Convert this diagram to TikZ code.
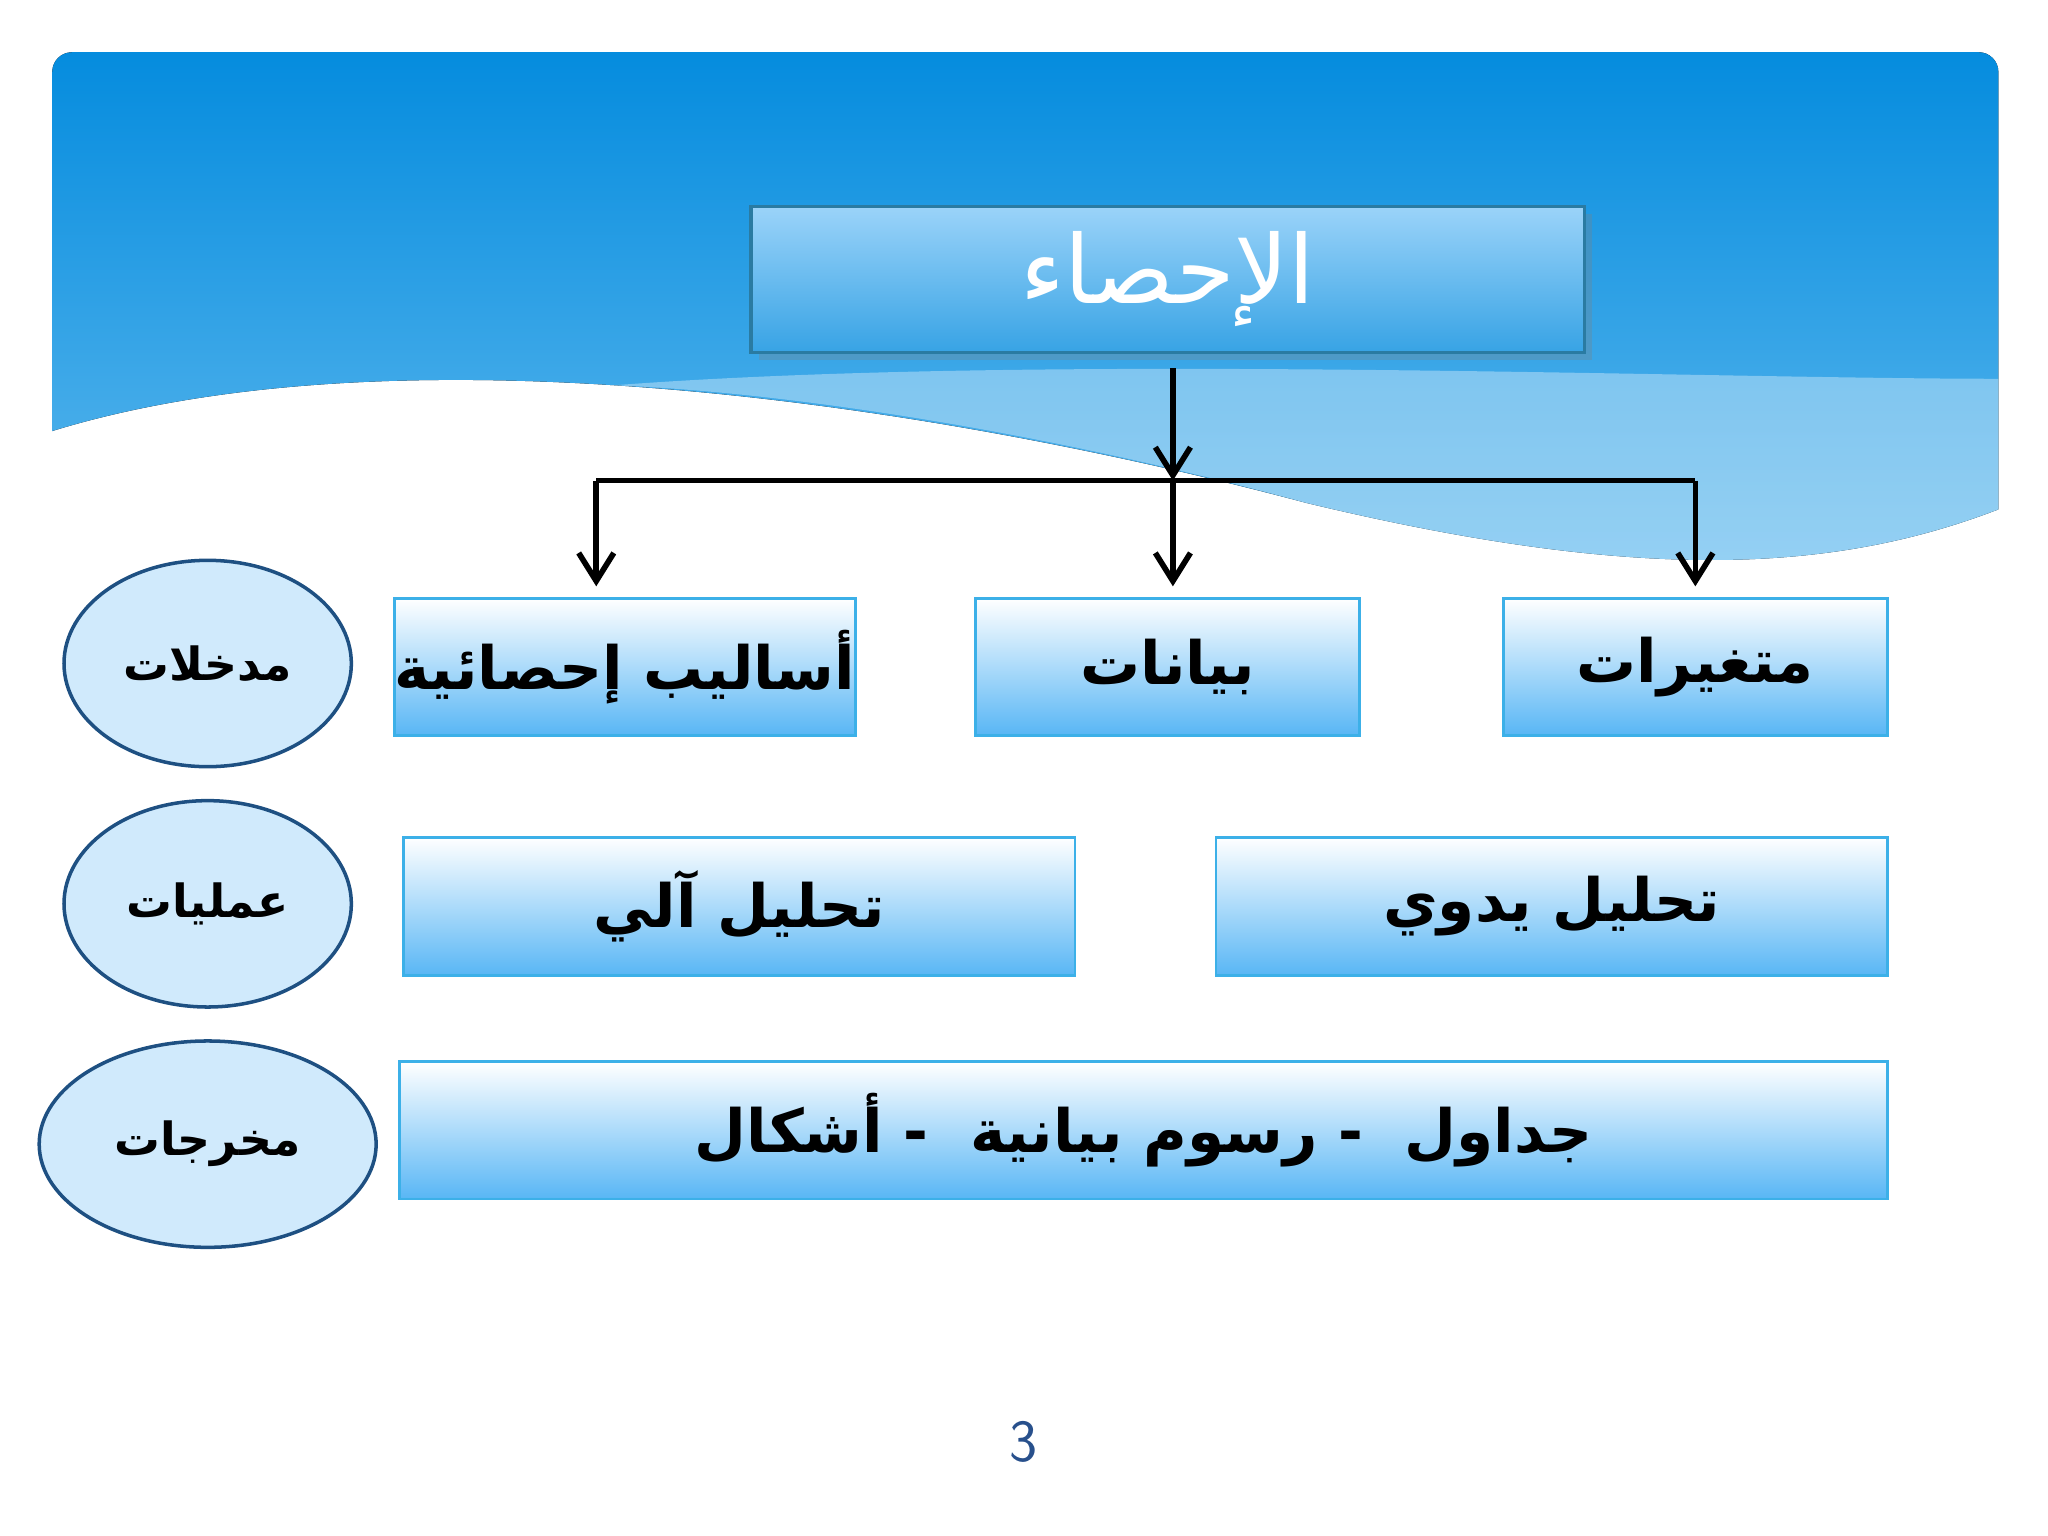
\documentclass[tikz,border=0pt]{standalone}
\usepackage{fontspec}
\newfontfamily\arabicfont[Script=Arabic]{DejaVu Sans}
\TeXXeTstate=1
\usetikzlibrary{shapes.geometric,shadows,arrows.meta}
\definecolor{bandtop}{RGB}{5,140,222}
\definecolor{bandlow}{RGB}{95,185,238}
\definecolor{boxedge}{RGB}{60,176,232}
\definecolor{boxlow}{RGB}{88,182,245}
\definecolor{ovalfill}{RGB}{208,234,252}
\definecolor{ovaledge}{RGB}{30,80,130}
\definecolor{pagenum}{RGB}{40,80,140}
\newcommand\ar[1]{\arabicfont\beginR #1\endR}
\begin{document}
\begin{tikzpicture}[x=0.013061cm,y=-0.013061cm,
    box/.style={rectangle, draw=boxedge, line width=0.8pt, top color=white, bottom color=boxlow,
      inner sep=0pt, font=\fontsize{17}{20}\selectfont\bfseries},
    titlebox/.style={rectangle, draw=boxedge!70!black, line width=1pt, top color=boxlow!60, bottom color=bandtop!80,
      inner sep=0pt, text=white, font=\fontsize{27}{32}\selectfont, drop shadow={opacity=0.3}},
    oval/.style={ellipse, draw=ovaledge, line width=1pt, fill=ovalfill, inner sep=0pt,
      font=\fontsize{13}{16}\selectfont\bfseries},
    link/.style={line width=1.6pt, black},
    tip/.style={link, -{Straight Barb[length=8pt,width=10pt]}}]
    \useasboundingbox (0,0) rectangle (1568,1176);
    % background band with wave
    \fill[top color=bandtop, bottom color=bandlow, rounded corners=15*0.013061cm] (40,330) -- (40,40)
      -- (1530,40) [sharp corners] -- (1530,390)
      .. controls (1400,440) and (1250,445) .. (1000,385) .. controls (700,305) and (300,250) .. (40,330) -- cycle;
    \fill[white, opacity=0.35] (470,295) .. controls (800,270) and (1300,290) .. (1530,290) -- (1530,390)
      .. controls (1400,440) and (1250,445) .. (1000,385) .. controls (800,330) and (600,300) .. (470,295) -- cycle;

    % title
    \node [titlebox, minimum width=638*0.013061cm, minimum height=112*0.013061cm] (stats) at (894,214) {\ar{الإحصاء}};

    % inputs row
    \node [box, minimum width=339*0.013061cm, minimum height=105*0.013061cm] (methods) at (478.5,510.5) {\ar{أساليب إحصائية}};
    \node [box, minimum width=294*0.013061cm, minimum height=105*0.013061cm] (data) at (894,510.5) {\ar{بيانات}};
    \node [box, minimum width=294*0.013061cm, minimum height=105*0.013061cm] (vars) at (1298,510.5) {\ar{متغيرات}};

    % processes row
    \node [box, minimum width=514*0.013061cm, minimum height=106*0.013061cm] (auto) at (566,694) {\ar{تحليل آلي}};
    \node [box, minimum width=514*0.013061cm, minimum height=106*0.013061cm] (manual) at (1188,694) {\ar{تحليل يدوي}};

    % outputs row
    \node [box, minimum width=1139*0.013061cm, minimum height=105*0.013061cm] (outputs) at (875.5,865.5)
      {\ar{جداول \ - رسوم بيانية \ - أشكال}};

    % ovals
    \node [oval, minimum width=220*0.013061cm, minimum height=158*0.013061cm] (inputs) at (159,508) {\ar{مدخلات}};
    \node [oval, minimum width=220*0.013061cm, minimum height=158*0.013061cm] (process) at (159,692) {\ar{عمليات}};
    \node [oval, minimum width=258*0.013061cm, minimum height=158*0.013061cm] (results) at (159,876) {\ar{مخرجات}};

    % connectors
    \coordinate (hub) at (898,368);
    \coordinate (left) at ([xshift=-22*0.013061cm]methods.north |- hub);
    \coordinate (right) at (vars.north |- hub);
    \coordinate (top) at (898,282);
    \draw [tip] (top) -- (hub);
    \draw [link] (left) -- (right);
    \draw [tip] (left) -- ([xshift=-22*0.013061cm,yshift=8*0.013061cm]methods.north);
    \draw [tip] (hub) -- ([xshift=4*0.013061cm,yshift=8*0.013061cm]data.north);
    \draw [tip] (right) -- ([yshift=8*0.013061cm]vars.north);

    \node [text=pagenum, font=\fontsize{17}{20}\selectfont\sffamily] (page) at (784,1104) {3};
\end{tikzpicture}
\end{document}
